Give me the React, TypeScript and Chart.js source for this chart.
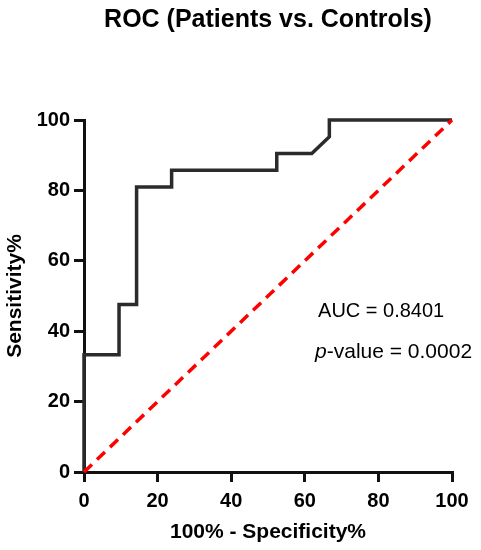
import React, { useEffect, useRef } from "react";
import { Chart, registerables } from "chart.js";

Chart.register(...registerables);

const rocX = [0, 0, 9.52, 9.52, 14.29, 14.29, 23.81, 23.81, 52.38, 52.38, 61.9, 66.67, 66.67, 100];
const rocY = [0, 33.33, 33.33, 47.62, 47.62, 80.95, 80.95, 85.71, 85.71, 90.48, 90.48, 95.24, 100, 100];
const refX = [0, 100];
const refY = [0, 100];
const tickValues = [0, 20, 40, 60, 80, 100];
const titleText = "ROC (Patients vs. Controls)";
const xTitle = "100% - Specificity%";
const yTitle = "Sensitivity%";
const aucText = "AUC = 0.8401";
const pItalic = "p";
const pRest = "-value = 0.0002";
// annotation anchor positions in data units
const noteX = 63.6;
const noteY = [45.5, 34.1];

const FONT = "'Liberation Sans', Arial, Helvetica, sans-serif";

const annotationPlugin = {
  id: "rocNotes",
  afterDatasetsDraw(chart: any) {
    const { ctx, scales } = chart;
    const x = scales.x.getPixelForValue(noteX);
    const y1 = scales.y.getPixelForValue(noteY[0]);
    const y2 = scales.y.getPixelForValue(noteY[1]);
    ctx.save();
    ctx.fillStyle = "#000";
    ctx.textBaseline = "middle";
    ctx.textAlign = "left";
    ctx.font = `20px ${FONT}`;
    ctx.fillText(aucText, x, y1);
    ctx.font = `italic 21px ${FONT}`;
    ctx.fillText(pItalic, x - 3, y2);
    const w = ctx.measureText(pItalic).width;
    ctx.font = `21px ${FONT}`;
    ctx.fillText(pRest, x - 3 + w, y2);
    ctx.restore();
  },
};

export default function App() {
  const canvasRef = useRef<HTMLCanvasElement | null>(null);

  useEffect(() => {
    if (!canvasRef.current) return;
    const chart = new Chart(canvasRef.current, {
      type: "scatter",
      data: {
        datasets: [
          {
            label: "ROC",
            data: rocX.map((x, i) => ({ x, y: rocY[i] })),
            showLine: true,
            borderColor: "#2b2b2b",
            borderWidth: 3.5,
            pointRadius: 0,
            fill: false,
            clip: false as any,
            order: 2,
          },
          {
            label: "Reference",
            data: refX.map((x, i) => ({ x, y: refY[i] })),
            showLine: true,
            borderColor: "#ff0000",
            borderWidth: 3.5,
            borderDash: [11, 7],
            pointRadius: 0,
            fill: false,
            clip: false as any,
            order: 1,
          },
        ],
      },
      options: {
        animation: false,
        responsive: true,
        maintainAspectRatio: false,
        layout: { padding: { left: 0, right: 29, top: 0, bottom: 0 } },
        plugins: {
          legend: { display: false },
          tooltip: { enabled: false },
          title: {
            display: true,
            text: titleText,
            fullSize: false,
            color: "#000",
            font: { family: FONT, size: 25, weight: "bold" },
            padding: { top: 5, bottom: 85 },
          },
        },
        scales: {
          x: {
            type: "linear",
            min: 0,
            max: 100,
            afterBuildTicks: (scale: any) => {
              scale.ticks = tickValues.map((v) => ({ value: v }));
            },
            afterFit: (scale: any) => {
              scale.height = 78;
            },
            ticks: {
              color: "#000",
              padding: 7,
              font: { family: FONT, size: 20, weight: "bold" },
            },
            grid: {
              drawOnChartArea: false,
              drawTicks: true,
              tickLength: 10,
              lineWidth: 3,
              color: "#111",
            },
            border: { display: true, color: "#111", width: 3 },
            title: {
              display: true,
              text: xTitle,
              color: "#000",
              font: { family: FONT, size: 21, weight: "bold" },
              padding: { top: 0, bottom: 5 },
            },
          },
          y: {
            type: "linear",
            min: 0,
            max: 100,
            afterBuildTicks: (scale: any) => {
              scale.ticks = tickValues.map((v) => ({ value: v }));
            },
            afterFit: (scale: any) => {
              scale.width = 84;
            },
            ticks: {
              color: "#000",
              padding: 4,
              font: { family: FONT, size: 20, weight: "bold" },
            },
            grid: {
              drawOnChartArea: false,
              drawTicks: true,
              tickLength: 10,
              lineWidth: 3,
              color: "#111",
            },
            border: { display: true, color: "#111", width: 3 },
            title: {
              display: true,
              text: yTitle,
              color: "#000",
              font: { family: FONT, size: 21, weight: "bold" },
              padding: { top: 3, bottom: 0 },
            },
          },
        },
      },
      plugins: [annotationPlugin],
    });
    return () => chart.destroy();
  }, []);

  return (
    <div style={{ position: "absolute", left: 0, top: 0, width: 481, height: 550, background: "#fff" }}>
      <canvas ref={canvasRef} />
    </div>
  );
}
